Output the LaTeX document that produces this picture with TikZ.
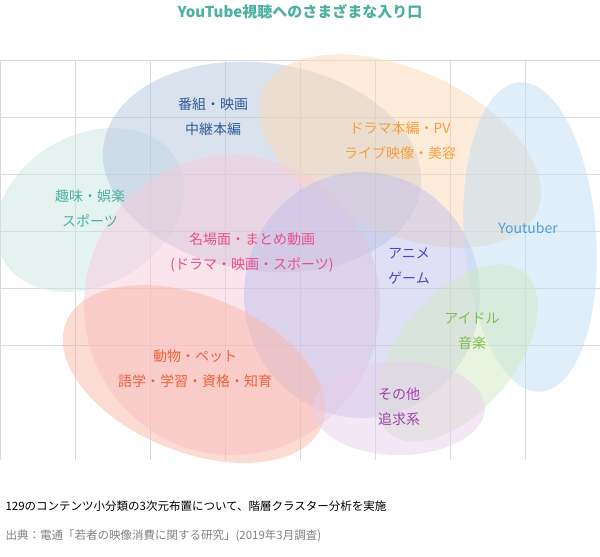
\documentclass[tikz,border=0pt]{standalone}
\usepackage{fontspec}
\setmainfont{Noto Sans CJK JP}
\usetikzlibrary{positioning}
\definecolor{tealc}{RGB}{75,176,160}
\definecolor{bluec}{RGB}{46,92,154}
\definecolor{orangec}{RGB}{245,160,64}
\definecolor{pinkc}{RGB}{233,80,138}
\definecolor{lavc}{RGB}{74,74,200}
\definecolor{ytc}{RGB}{74,159,224}
\definecolor{greenc}{RGB}{125,192,80}
\definecolor{salmc}{RGB}{240,96,58}
\definecolor{purpc}{RGB}{160,64,176}
\tikzset{
  blob/.style={fill opacity=0.5},
  lbl/.style={font=\fontsize{14}{25}\selectfont, align=center}
}
\begin{document}
\begin{tikzpicture}[x=1pt,y=-1pt]
\useasboundingbox (0,0) rectangle (600,557);
% grid
\foreach \gx in {0,75,...,525} \draw[gray!30] (\gx,60) -- (\gx,460);
\foreach \gy in {60,117,...,400} \draw[gray!30] (0,\gy) -- (600,\gy);
% clusters
\fill[blob, fill=tealc!30, rotate around={30:(90,210)}] (90,210) ellipse (100 and 75);
\fill[blob, fill=bluec!35, rotate around={-8:(262,167)}] (262,167) ellipse (160 and 104);
\fill[blob, fill=orangec!40, rotate around={-24:(400,151)}] (400,151) ellipse (150 and 82);
\fill[blob, fill=pinkc!30] (232,305) ellipse (148 and 150);
\fill[blob, fill=lavc!35] (362,295) ellipse (118 and 123);
\fill[blob, fill=ytc!35, rotate around={4:(530,237)}] (530,237) ellipse (66 and 155);
\fill[blob, fill=greenc!35, rotate around={50:(457,353)}] (457,353) ellipse (105 and 58);
\fill[blob, fill=salmc!45, rotate around={-22:(194,374)}] (194,374) ellipse (138 and 78);
\fill[blob, fill=purpc!25] (399,408) ellipse (86 and 47);
% labels
\node[lbl, text=tealc, text width=120pt] (hobby) at (90,208) {趣味・娯楽\\スポーツ};
\node[lbl, text=bluec, text width=120pt] (tv) at (213,117) {番組・映画\\中継本編};
\node[lbl, text=orangec, text width=140pt] (drama) at (400,141) {ドラマ本編・PV\\ライブ映像・美容};
\node[lbl, text=pinkc, text width=200pt] (scene) at (252,252) {名場面・まとめ動画\\(ドラマ・映画・スポーツ)};
\node[lbl, text=lavc, text width=80pt] (anime) at (409,266) {アニメ\\ゲーム};
\node[lbl, text=ytc] (yt) at (528,228) {Youtuber};
\node[lbl, text=greenc, text width=80pt] (idol) at (472,331) {アイドル\\音楽};
\node[lbl, text=salmc, text width=200pt] (animal) at (195,369) {動物・ペット\\語学・学習・資格・知育};
\node[lbl, text=purpc, text width=80pt] (other) at (399,407) {その他\\追求系};
% title and notes
\node[font=\fontsize{15}{18}\selectfont\bfseries, text=tealc] (title) at (300,12) {YouTube視聴へのさまざまな入り口};
\node[anchor=west, font=\fontsize{11.5}{14}\selectfont] (note) at (2,506) {129のコンテンツ小分類の3次元布置について、階層クラスター分析を実施};
\node[anchor=west, font=\fontsize{11.5}{14}\selectfont, text=gray] (src) at (2,536) {出典：電通「若者の映像消費に関する研究」(2019年3月調査)};
\end{tikzpicture}
\end{document}
